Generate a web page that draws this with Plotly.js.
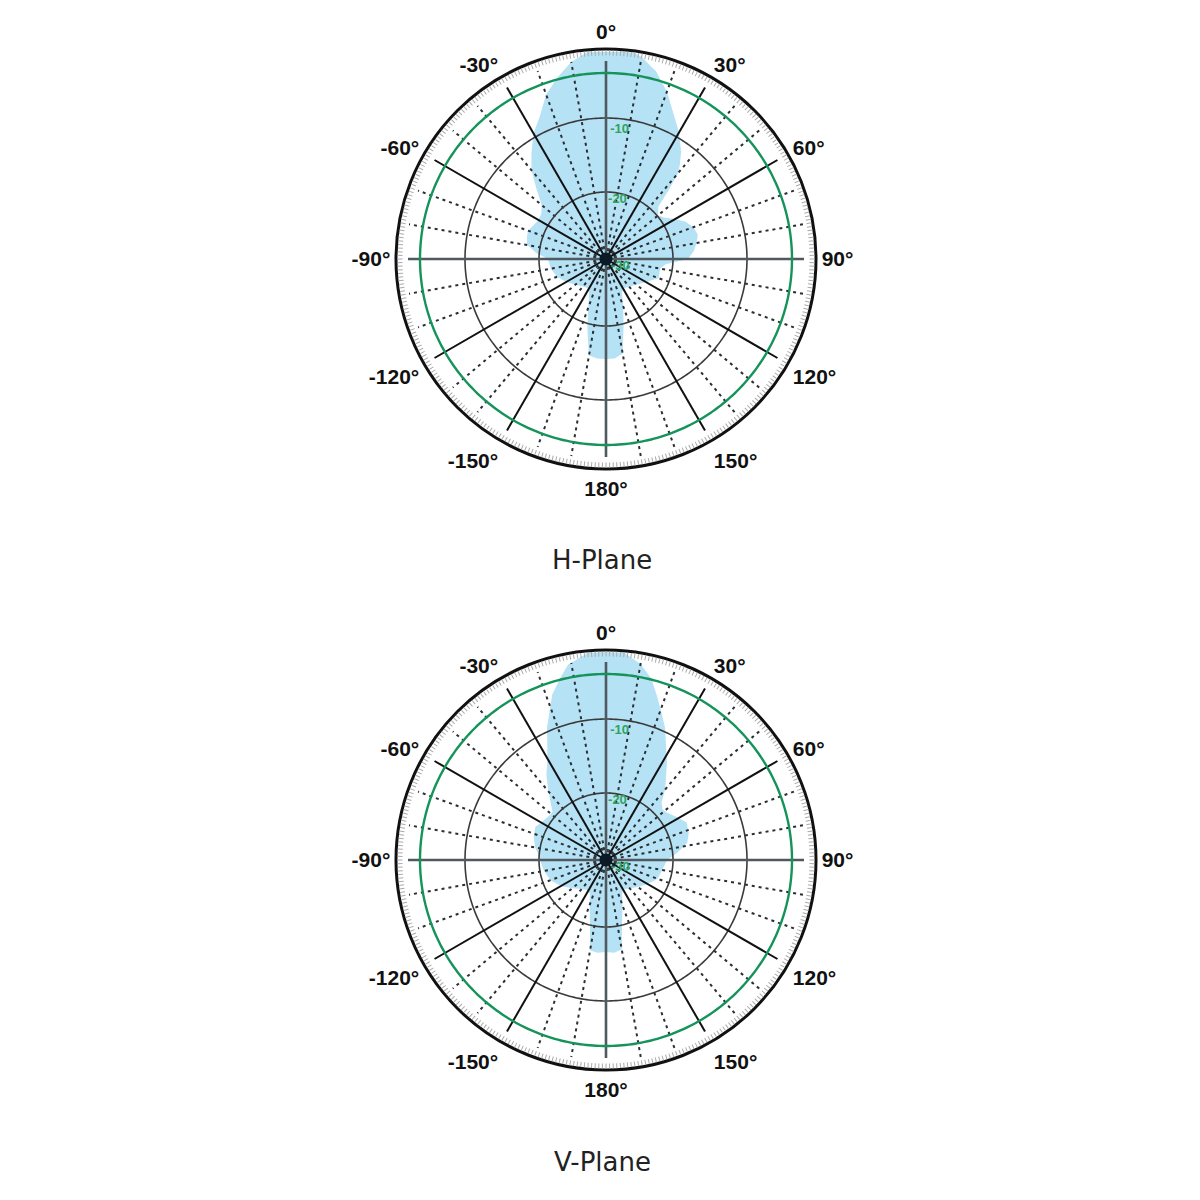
<!DOCTYPE html>
<html><head><meta charset="utf-8">
<script src="https://cdn.plot.ly/plotly-3.0.1.min.js"></script>
<style>html,body{margin:0;padding:0;background:#fff}#chart{width:1200px;height:1200px}</style>
</head><body><div id="chart"></div>
<script>
// Radiation pattern outlines (angle in degrees clockwise from 0°, radius in chart units; outer ring = 210)
const hPlaneTheta = [0,5,8,10,15,20,25,30,35,38,40,42,45,50,55,60,65,70,75,80,85,90,95,100,110,120,130,140,150,155,160,165,170,175,180,
  -175,-170,-165,-160,-155,-150,-140,-130,-120,-110,-100,-90,-85,-80,-75,-70,-65,-60,-55,-50,-45,-40,-35,-30,-25,-20,-15,-10,-5];
const hPlaneR = [207,208,208,205,194,178,160,146,131,120,112,95,74,68,72,80,88,93,95,92,88,82,60,55,56,46,40,36,34,38,50,68,96,100,100,
  100,98,72,52,40,34,36,40,46,52,56,58,70,80,82,83,80,78,79,84,98,116,130,145,157,175,188,200,208];

const vPlaneTheta = [0,5,10,14,17,20,24,28,32,36,40,44,48,52,58,65,72,78,84,90,100,110,120,130,140,150,155,160,165,170,175,180,
  -175,-170,-165,-160,-155,-150,-140,-130,-120,-110,-100,-90,-85,-80,-72,-65,-58,-52,-48,-43,-39,-35,-31,-28,-24,-21,-18,-14,-11,-5];
const vPlaneR = [208,208,199,187,173,160,145,128,115,102,92,80,76,77,82,89,87,83,72,61,57,55,48,42,37,34,38,48,62,91,93,92,
  93,92,62,48,38,35,38,44,52,59,63,66,68,72,76,78,74,72,72,82,92,104,114,125,145,158,174,188,199,208];

const gridRingRadii = [67, 141];
const referenceRingRadius = 186;
const outerRadius = 210;
const radialLabels = ['-10', '-20', '-30'];
const radialLabelR = [130, 60, 16];
const radialLabelTheta = [6, 11, 117];
const angleTickVals = [0, 30, 60, 90, 120, 150, 180, 210, 240, 270, 300, 330];
const angleTickText = ['0°', '30°', '60°', '90°', '120°', '150°', '180°', '-150°', '-120°', '-90°', '-60°', '-30°'];
const planeTitles = ['H-Plane', 'V-Plane'];

const fillColor = '#b6e2f6';
const traces = [];

function circle(r) {
  const th = [], rr = [];
  for (let a = 0; a <= 360; a += 1) { th.push(a); rr.push(r); }
  return {r: rr, theta: th};
}
function spokes(angles, len) {
  const th = [], rr = [];
  angles.forEach(a => { th.push(a, a, a + 180, null); rr.push(len, 0, len, null); });
  return {r: rr, theta: th};
}

function addPlane(sub, theta, r) {
  traces.push({type: 'scatterpolar', subplot: sub, theta: theta.concat([theta[0]]), r: r.concat([r[0]]),
    mode: 'lines', fill: 'toself', fillcolor: fillColor, line: {width: 0, color: fillColor}, hoverinfo: 'skip'});
  const dotted = [];
  for (let a = 0; a < 180; a += 10) if (a % 30 !== 0) dotted.push(a);
  const d = spokes(dotted, 200);
  traces.push({type: 'scatterpolar', subplot: sub, r: d.r, theta: d.theta, mode: 'lines',
    line: {color: '#2a2f33', width: 2, dash: '3px,4px'}, connectgaps: false, hoverinfo: 'skip'});
  gridRingRadii.forEach(rad => {
    const c = circle(rad);
    traces.push({type: 'scatterpolar', subplot: sub, r: c.r, theta: c.theta, mode: 'lines',
      line: {color: '#3a3a3a', width: 1.6}, hoverinfo: 'skip'});
  });
  const s = spokes([30, 60, 120, 150], 198);
  traces.push({type: 'scatterpolar', subplot: sub, r: s.r, theta: s.theta, mode: 'lines',
    line: {color: '#111', width: 2}, connectgaps: false, hoverinfo: 'skip'});
  const ax = spokes([0, 90], 198);
  traces.push({type: 'scatterpolar', subplot: sub, r: ax.r, theta: ax.theta, mode: 'lines',
    line: {color: '#4f5a60', width: 2.6}, connectgaps: false, hoverinfo: 'skip'});
  const g = circle(referenceRingRadius);
  traces.push({type: 'scatterpolar', subplot: sub, r: g.r, theta: g.theta, mode: 'lines',
    line: {color: '#15935a', width: 2.4}, hoverinfo: 'skip'});
  traces.push({type: 'scatterpolar', subplot: sub, r: [0], theta: [0], mode: 'markers',
    marker: {size: 13, color: '#0b1a26'}, hoverinfo: 'skip'});
  traces.push({type: 'scatterpolar', subplot: sub, r: radialLabelR, theta: radialLabelTheta, mode: 'text',
    text: radialLabels, textfont: {family: 'Liberation Sans', size: 13, color: '#2ea35f', weight: 'bold'}, hoverinfo: 'skip'});
}

addPlane('polar', hPlaneTheta, hPlaneR);
addPlane('polar2', vPlaneTheta, vPlaneR);

const fineTicks = [], fineText = [];
for (let a = 0; a < 360; a += 1) {
  fineTicks.push(a);
  const i = angleTickVals.indexOf(a);
  fineText.push(i >= 0 ? angleTickText[i] : '');
}

function polarLayout(yDom) {
  return {
    domain: {x: [396 / 1200, 816 / 1200], y: yDom},
    bgcolor: 'white',
    angularaxis: {rotation: 90, direction: 'clockwise', tickmode: 'array', tickvals: fineTicks, ticktext: fineText,
      ticks: 'inside', ticklen: 5, tickwidth: 1, tickcolor: '#aaa', showgrid: false,
      showline: true, linecolor: '#111', linewidth: 3,
      tickfont: {family: 'Liberation Sans', size: 21, color: '#111', weight: 'bold'}},
    radialaxis: {range: [0, outerRadius], visible: false}
  };
}

const layout = {
  width: 1200, height: 1200, showlegend: false,
  margin: {l: 0, r: 0, t: 0, b: 0},
  paper_bgcolor: 'white',
  polar: polarLayout([731 / 1200, 1151 / 1200]),
  polar2: polarLayout([130 / 1200, 550 / 1200]),
  annotations: [
    {text: planeTitles[0], x: 602 / 1200, y: 1 - 560 / 1200, xref: 'paper', yref: 'paper', showarrow: false,
      xanchor: 'center', yanchor: 'middle', font: {family: 'DejaVu Sans', size: 26, color: '#222'}},
    {text: planeTitles[1], x: 602 / 1200, y: 1 - 1162 / 1200, xref: 'paper', yref: 'paper', showarrow: false,
      xanchor: 'center', yanchor: 'middle', font: {family: 'DejaVu Sans', size: 26, color: '#222'}}
  ]
};

Plotly.newPlot('chart', traces, layout, {staticPlot: true, displayModeBar: false});
</script>
</body></html>
